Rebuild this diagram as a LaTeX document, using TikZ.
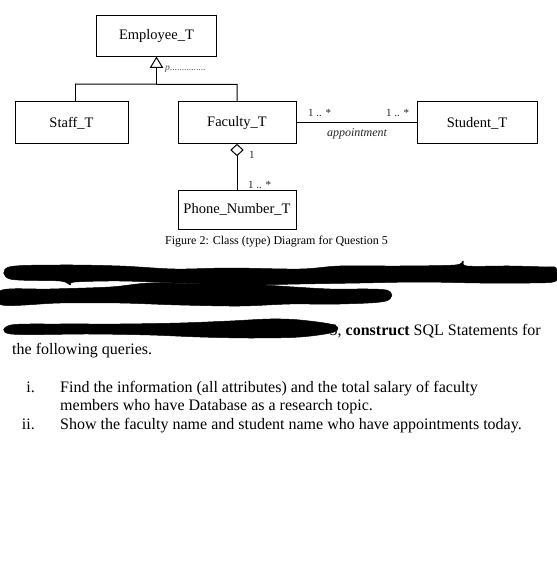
\documentclass[tikz,border=0pt]{standalone}
\usepackage{fontspec}
\setmainfont{Liberation Serif}
\usetikzlibrary{calc}
\begin{document}
\begin{tikzpicture}[x=1pt,y=-1pt,
  box/.style={draw, line width=1pt, inner sep=0pt, font=\fontsize{14.5}{16}\selectfont},
  conn/.style={line width=1pt},
  mult/.style={inner sep=0pt, font=\fontsize{11}{13}\selectfont, text=black!85},
  body/.style={inner sep=0pt, font=\fontsize{16}{18}\selectfont},
  blob/.style={fill=black, draw=black, line width=0.5pt}]
\useasboundingbox[fill=white] (0,0) rectangle (556,588);

% classes
\node[box, minimum width=120pt, minimum height=41pt] (emp) at (156.5,36.5) {Employee\_T};
\node[box, minimum width=113pt, minimum height=42pt] (staff) at (71.5,123) {Staff\_T};
\node[box, minimum width=118pt, minimum height=42pt] (fac) at (237,123) {Faculty\_T};
\node[box, minimum width=120pt, minimum height=42pt] (stu) at (477,123) {Student\_T};
\node[box, minimum width=118pt, minimum height=39pt] (phone) at (237,209.5) {Phone\_Number\_T};

% generalization
\coordinate (tb) at ($(emp.south)+(0,10)$);
\coordinate (bj) at ($(emp.south)+(0,27)$);
\coordinate (sj) at (75,84);
\draw[conn] (tb) -- (bj);
\draw[conn] (sj) -- (bj -| fac.north) -- (fac.north);
\draw[conn] (sj) -- (sj |- staff.north);
\draw[conn, fill=white] (emp.south) -- ($(tb)+(6,0)$) -- ($(tb)+(-6,0)$) -- cycle;
\node[inner sep=0pt, anchor=base west, font=\fontsize{9.5}{11}\selectfont, text=black!70] (gl) at (165,71) {\textit{p}...............};

% association
\draw[conn] (fac.east) -- (stu.west);
\node[mult, anchor=base west] (m1) at (308,117) {1 .. *};
\node[mult, anchor=base west] (m2) at (386,117) {1 .. *};
\node[inner sep=0pt, anchor=base, font=\fontsize{12}{14}\selectfont\itshape, text=black!85] (ap) at (357,137) {appointment};

% aggregation
\coordinate (db) at ($(fac.south)+(0,11)$);
\draw[conn] (db) -- (phone.north);
\draw[conn, fill=white] (fac.south) -- ($(fac.south)+(6,5.5)$) -- (db) -- ($(fac.south)+(-6,5.5)$) -- cycle;
\node[mult, anchor=base west] (m3) at (249,158) {1};
\node[mult, anchor=base west] (m4) at (248,188) {1 .. *};

% caption
\node[inner sep=0pt, anchor=base west, font=\fontsize{12}{14}\selectfont] (cap) at (165,244) {Figure 2: Class (type) Diagram for Question 5};

% redaction scribbles
\fill[blob] plot[smooth cycle, tension=0.55] coordinates {(9,267) (60,265) (120,266) (175,269) (230,268) (300,269) (340,266) (400,266) (455,265) (463,261) (467,266) (510,266) (545,267) (556,268) (556,281) (530,283) (480,283) (420,282) (360,283) (300,284) (240,285) (180,283) (120,281) (75,282) (70,285) (60,281) (10,279)};
\fill[blob] plot[smooth cycle, tension=0.55] coordinates {(2,290) (50,289) (110,287) (150,283) (200,284) (260,285) (294,287) (330,289) (386,290) (386,301) (340,304) (290,304) (240,306) (180,305) (120,303) (60,303) (2,305)};

% body text
\node[body, anchor=base east] (l1) at (541,335) {5, \textbf{construct} SQL Statements for};
\fill[blob] plot[smooth cycle, tension=0.55] coordinates {(11,325) (60,324) (120,324) (180,323) (230,321) (270,319) (300,320) (334,325) (334,332) (300,337) (250,338) (200,337) (150,335) (90,334) (11,334)};
\node[body, anchor=base west] (l2) at (12,354) {the following queries.};

\node[body, anchor=base east] (n1) at (35,392) {i.};
\node[body, anchor=base west] (t1) at (60,392) {Find the information (all attributes) and the total salary of faculty};
\node[body, anchor=base west] (t1b) at (60,410) {members who have Database as a research topic.};
\node[body, anchor=base east] (n2) at (35,429) {ii.};
\node[body, anchor=base west] (t2) at (60,429) {Show the faculty name and student name who have appointments today.};
\end{tikzpicture}
\end{document}
